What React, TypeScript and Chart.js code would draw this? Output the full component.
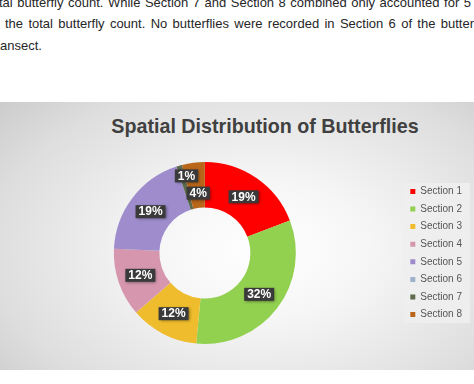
import { useEffect, useRef } from 'react';
import { Chart, registerables } from 'chart.js';

Chart.register(...registerables);

const categories = ['Section 1', 'Section 2', 'Section 3', 'Section 4', 'Section 5', 'Section 6', 'Section 7', 'Section 8'];
const shares = [19, 32, 12, 12, 19, 0, 1, 4];
const sliceColors = ['#fe0000', '#92d050', '#eebc2c', '#d596ae', '#9e8ccd', '#9db2cc', '#5d6a4c', '#b9661a'];
const titleText = 'Spatial Distribution of Butterflies';
const bodyLines = [
  'tal butterfly count. While Section 7 and Section 8 combined only accounted for 5',
  'the total butterfly count. No butterflies were recorded in Section 6 of the butter',
  'ansect.',
];

const FONT = '"Liberation Sans", Arial, Helvetica, sans-serif';

const legendBackground = {
  id: 'legendBackground',
  beforeDraw(chart: any) {
    const lg = chart.legend;
    if (!lg) return;
    const ctx = chart.ctx;
    const cy = (lg.top + lg.bottom) / 2;
    ctx.save();
    ctx.fillStyle = 'rgba(238,238,238,0.9)';
    ctx.fillRect(lg.left + 1, cy - 70, lg.right - lg.left - 3, 140);
    ctx.restore();
  },
};

const sliceLabels = {
  id: 'sliceLabels',
  afterDatasetsDraw(chart: any, _args: any, opts: any) {
    const ctx = chart.ctx;
    const meta = chart.getDatasetMeta(0);
    const values = chart.data.datasets[0].data as number[];
    const nudges = (opts && opts.nudges) || {};
    ctx.save();
    ctx.font = `bold 12px ${FONT}`;
    ctx.textAlign = 'center';
    ctx.textBaseline = 'middle';
    meta.data.forEach((arc: any, i: number) => {
      const v = values[i];
      if (!v) return;
      const p = arc.getProps(['x', 'y', 'startAngle', 'endAngle', 'innerRadius', 'outerRadius'], true);
      const n = nudges[i] || { r: 0, a: 0 };
      const mid = (p.startAngle + p.endAngle) / 2 + (n.a * Math.PI) / 180;
      const r = (p.innerRadius + p.outerRadius) / 2 + n.r;
      const px = p.x + Math.cos(mid) * r;
      const py = p.y + Math.sin(mid) * r;
      const text = `${v}%`;
      const w = ctx.measureText(text).width + 6;
      const h = 13;
      ctx.shadowColor = 'rgba(0,0,0,0.45)';
      ctx.shadowBlur = 3;
      ctx.shadowOffsetX = 1;
      ctx.shadowOffsetY = 1;
      ctx.fillStyle = '#3a3a3a';
      ctx.fillRect(px - w / 2, py - h / 2, w, h);
      ctx.shadowColor = 'transparent';
      ctx.fillStyle = '#ffffff';
      ctx.fillText(text, px, py + 0.5);
    });
    ctx.restore();
  },
};

export default function App() {
  const canvasRef = useRef<HTMLCanvasElement | null>(null);

  useEffect(() => {
    if (!canvasRef.current) return;
    const chart = new Chart(canvasRef.current, {
      type: 'doughnut',
      data: {
        labels: categories,
        datasets: [
          {
            data: shares,
            backgroundColor: sliceColors,
            borderWidth: 0,
          },
        ],
      },
      options: {
        animation: false,
        responsive: true,
        maintainAspectRatio: false,
        cutout: '50%',
        layout: { padding: { left: 7, right: 2, top: 60, bottom: 26 } },
        plugins: {
          title: { display: false },
          tooltip: { enabled: false },
          legend: {
            position: 'right',
            labels: {
              boxWidth: 5,
              boxHeight: 5,
              padding: 7.6,
              color: '#555555',
              font: { size: 10, family: FONT },
            },
          },
          sliceLabels: { nudges: { 6: { r: 11, a: 3 }, 7: { r: -8, a: 1 } } },
        } as any,
      },
      plugins: [legendBackground, sliceLabels],
    });
    return () => chart.destroy();
  }, []);

  const lineStyle = (top: number, left: number, width: number | null, justify: boolean): any => ({
    position: 'absolute',
    top,
    left,
    width: width ?? undefined,
    whiteSpace: 'nowrap',
    fontFamily: FONT,
    fontSize: 13,
    lineHeight: '13px',
    color: '#262626',
    textAlign: justify ? 'justify' : 'left',
    textAlignLast: justify ? 'justify' : 'left',
  });

  return (
    <div
      style={{
        position: 'fixed',
        left: 0,
        top: 0,
        width: 474,
        height: 384,
        overflow: 'hidden',
        background: '#ffffff',
      }}
    >
      <div style={{ ...lineStyle(-4.5, -1, 472, true), whiteSpace: 'normal' }}>{bodyLines[0]}</div>
      <div style={{ ...lineStyle(17.3, 5, 469, true), whiteSpace: 'normal' }}>{bodyLines[1]}</div>
      <div style={lineStyle(39, 0, null, false)}>{bodyLines[2]}</div>
      <div
        style={{
          position: 'absolute',
          left: 0,
          top: 102,
          width: 474,
          height: 268,
          background:
            'radial-gradient(ellipse 75% 85% at 55% 55%, #ffffff 0%, #f6f6f6 30%, #dedede 75%, #cacaca 100%)',
        }}
      >
        <div
          style={{
            position: 'absolute',
            left: 65,
            width: 400,
            top: 14.3,
            textAlign: 'center',
            fontFamily: FONT,
            fontWeight: 'bold',
            fontSize: 19.7,
            lineHeight: '20px',
            color: '#404040',
            whiteSpace: 'nowrap',
          }}
        >
          {titleText}
        </div>
        <canvas ref={canvasRef} style={{ position: 'absolute', left: 0, top: 0, width: 474, height: 268 }} />
      </div>
    </div>
  );
}
